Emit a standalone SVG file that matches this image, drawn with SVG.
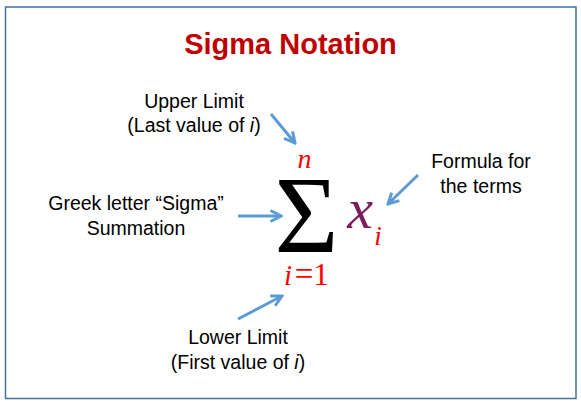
<svg xmlns="http://www.w3.org/2000/svg" width="581" height="406" viewBox="0 0 581 406">
<style>
.lbl{font-family:"Liberation Sans",Arial,sans-serif;font-size:19.5px;fill:#000;text-anchor:middle}
.title{font-family:"Liberation Sans",Arial,sans-serif;font-size:29px;font-weight:bold;fill:#C00000;text-anchor:middle}
.math{font-family:"Liberation Serif","Times New Roman",serif;text-anchor:middle}
.red{fill:#FF0000;font-style:italic}
.arrow{stroke:#5B9BD5;stroke-width:3;fill:none;marker-end:url(#head)}
</style>
<defs>
<marker id="head" viewBox="0 0 14 14" markerWidth="14" markerHeight="14" refX="12" refY="7" orient="auto" markerUnits="userSpaceOnUse">
<path d="M1.5,1.5 L12,7 L1.5,12.5" fill="none" stroke="#5B9BD5" stroke-width="3" stroke-linejoin="miter"/>
</marker>
</defs>
<rect x="5.5" y="7" width="570.5" height="391.5" fill="#FFFFFF" stroke="#41719C" stroke-width="1.5"/>
<g id="title"><text class="title" x="290.5" y="54">Sigma Notation</text></g>
<g id="upper-limit">
<text class="lbl" x="194" y="108">Upper Limit</text>
<text class="lbl" x="194" y="132">(Last value of <tspan font-style="italic">i</tspan>)</text>
</g>
<g id="greek-letter">
<text class="lbl" x="136" y="210">Greek letter “Sigma”</text>
<text class="lbl" x="136" y="235">Summation</text>
</g>
<g id="formula">
<text class="lbl" x="481" y="168">Formula for</text>
<text class="lbl" x="481" y="193">the terms</text>
</g>
<g id="lower-limit">
<text class="lbl" x="238" y="344">Lower Limit</text>
<text class="lbl" x="238" y="369">(First value of <tspan font-style="italic">i</tspan>)</text>
</g>
<g id="sigma-expression">
<text class="math" x="306.5" y="252" font-size="110" fill="#000">Σ</text>
<text class="math red" x="304.5" y="168" font-size="28">n</text>
<text class="math" x="360" y="228" font-size="58" font-style="italic" fill="#7A1F5C">x</text>
<text class="math red" x="378" y="245" font-size="27">i</text>
<text class="math" y="285" fill="#FF0000" font-size="29"><tspan x="288" font-style="italic">i</tspan><tspan x="304" font-size="33">=</tspan><tspan x="321" font-size="31">1</tspan></text>
</g>
<g id="connectors">
<line class="arrow" x1="271" y1="114" x2="295" y2="143"/>
<line class="arrow" x1="238" y1="216" x2="281" y2="216"/>
<line class="arrow" x1="418" y1="175" x2="388" y2="204"/>
<line class="arrow" x1="238" y1="319" x2="282" y2="296"/>
</g>
</svg>
